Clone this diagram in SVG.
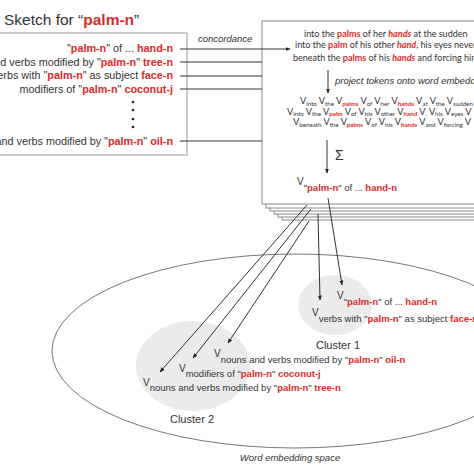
<svg xmlns="http://www.w3.org/2000/svg" width="474" height="474" viewBox="0 0 474 474">
<defs>
<marker id="ah" viewBox="0 0 10 10" refX="9" refY="5" markerWidth="5" markerHeight="5" orient="auto" markerUnits="userSpaceOnUse">
<path d="M0,1 L10,5 L0,9 z" fill="#222"/>
</marker>
<style>
text{font-family:"Liberation Sans",Arial,sans-serif;fill:#333}
.r{fill:#dd2a2a;font-weight:bold}
.row{font-size:10.8px}
.it{font-style:italic;font-size:9.5px}
.conc{font-family:Lato,"Open Sans",sans-serif;font-size:9px;fill:#333}
.cr{fill:#dd2a2a;font-weight:bold}
.ci{fill:#dd2a2a;font-weight:bold;font-style:italic}
.vr{font-family:Lato,"Open Sans",sans-serif;font-size:9.2px}
.sb{font-size:6.2px}
.vl{font-size:10px}
.sl{font-size:9.5px}
.box{fill:#fff;stroke:#999;stroke-width:1}
.page{fill:#fff;stroke:#888;stroke-width:1}
.ln{stroke:#333;stroke-width:1;fill:none}
</style>
</defs>
<rect width="474" height="474" fill="#fff"/>

<g id="title">
<text x="4" y="25" style="font-size:15.5px">Sketch for “<tspan class="r">palm-n</tspan>”</text>
</g>

<g id="space">
<ellipse cx="295" cy="351" rx="243" ry="97" fill="none" stroke="#777" stroke-width="1"/>
<text x="290" y="461" text-anchor="middle" class="it">Word embedding space</text>
</g>

<g id="cluster1">
<ellipse cx="335" cy="305" rx="37" ry="30" fill="#ebebeb"/>
<text x="338" y="349" text-anchor="middle" style="font-size:11px">Cluster 1</text>
</g>
<g id="cluster2">
<ellipse cx="193" cy="366" rx="57" ry="45" fill="#ebebeb"/>
<text x="192" y="423" text-anchor="middle" style="font-size:11px">Cluster 2</text>
</g>

<g id="sketch">
<rect class="box" x="-10" y="33" width="197" height="122"/>
<g class="row" text-anchor="end">
<text x="173" y="52">"<tspan class="r">palm-n</tspan>" of ... <tspan class="r">hand-n</tspan></text>
<text x="173" y="66">nouns and verbs modified by "<tspan class="r">palm-n</tspan>" <tspan class="r">tree-n</tspan></text>
<text x="173" y="79">verbs with "<tspan class="r">palm-n</tspan>" as subject <tspan class="r">face-n</tspan></text>
<text x="173" y="93">modifiers of "<tspan class="r">palm-n</tspan>" <tspan class="r">coconut-j</tspan></text>
<text x="173" y="145">nouns and verbs modified by "<tspan class="r">palm-n</tspan>" <tspan class="r">oil-n</tspan></text>
</g>
<g fill="#222">
<circle cx="133" cy="102" r="1.3"/>
<circle cx="133" cy="110" r="1.3"/>
<circle cx="133" cy="119" r="1.3"/>
<circle cx="133" cy="127" r="1.3"/>
</g>
</g>

<g id="concordance">
<rect class="page" x="282" y="36" width="220" height="184"/>
<rect class="page" x="278" y="33" width="220" height="184"/>
<rect class="page" x="274" y="30" width="220" height="184"/>
<rect class="page" x="270" y="27" width="220" height="184"/>
<rect class="page" x="266" y="24" width="220" height="184"/>
<rect class="page" x="262" y="21" width="220" height="183"/>
<text class="conc" x="304" y="37">into the <tspan class="cr">palms</tspan> of her <tspan class="ci">hands</tspan> at the sudden</text>
<text class="conc" x="295" y="48">into the <tspan class="cr">palm</tspan> of his other <tspan class="ci">hand</tspan>, his eyes never</text>
<text class="conc" x="293" y="61">beneath the <tspan class="cr">palms</tspan> of his <tspan class="ci">hands</tspan> and forcing him</text>
<text x="335" y="84" class="it">project tokens onto word embeddings</text>
<text class="vr" x="300" y="104">V<tspan class="sb" dy="1.5">into</tspan><tspan dy="-1.5"> V</tspan><tspan class="sb" dy="1.5">the</tspan><tspan dy="-1.5"> V</tspan><tspan class="sb cr" dy="1.5">palms</tspan><tspan dy="-1.5"> V</tspan><tspan class="sb" dy="1.5">of</tspan><tspan dy="-1.5"> V</tspan><tspan class="sb" dy="1.5">her</tspan><tspan dy="-1.5"> V</tspan><tspan class="sb cr" dy="1.5">hands</tspan><tspan dy="-1.5"> V</tspan><tspan class="sb" dy="1.5">at</tspan><tspan dy="-1.5"> V</tspan><tspan class="sb" dy="1.5">the</tspan><tspan dy="-1.5"> V</tspan><tspan class="sb" dy="1.5">sudden</tspan></text>
<text class="vr" x="287" y="114.5">V<tspan class="sb" dy="1.5">into</tspan><tspan dy="-1.5"> V</tspan><tspan class="sb" dy="1.5">the</tspan><tspan dy="-1.5"> V</tspan><tspan class="sb cr" dy="1.5">palm</tspan><tspan dy="-1.5"> V</tspan><tspan class="sb" dy="1.5">of</tspan><tspan dy="-1.5"> V</tspan><tspan class="sb" dy="1.5">his</tspan><tspan dy="-1.5"> V</tspan><tspan class="sb" dy="1.5">other</tspan><tspan dy="-1.5"> V</tspan><tspan class="sb cr" dy="1.5">hand</tspan><tspan dy="-1.5"> V</tspan><tspan class="sb" dy="1.5">,</tspan><tspan dy="-1.5"> V</tspan><tspan class="sb" dy="1.5">his</tspan><tspan dy="-1.5"> V</tspan><tspan class="sb" dy="1.5">eyes</tspan><tspan dy="-1.5"> V</tspan></text>
<text class="vr" x="293" y="125">V<tspan class="sb" dy="1.5">beneath</tspan><tspan dy="-1.5"> V</tspan><tspan class="sb" dy="1.5">the</tspan><tspan dy="-1.5"> V</tspan><tspan class="sb cr" dy="1.5">palms</tspan><tspan dy="-1.5"> V</tspan><tspan class="sb" dy="1.5">of</tspan><tspan dy="-1.5"> V</tspan><tspan class="sb" dy="1.5">his</tspan><tspan dy="-1.5"> V</tspan><tspan class="sb cr" dy="1.5">hands</tspan><tspan dy="-1.5"> V</tspan><tspan class="sb" dy="1.5">and</tspan><tspan dy="-1.5"> V</tspan><tspan class="sb" dy="1.5">forcing</tspan><tspan dy="-1.5"> V</tspan></text>
<text x="335" y="160" style="font-size:14px">Σ</text>
<text x="297" y="185" class="vl">V<tspan class="sl" dy="6">"<tspan class="r">palm-n</tspan>" of ... <tspan class="r">hand-n</tspan></tspan></text>
</g>

<g id="labels1">
<text x="337" y="299" class="vl">V<tspan class="sl" dy="6">"<tspan class="r">palm-n</tspan>" of ... <tspan class="r">hand-n</tspan></tspan></text>
<text x="312" y="316" class="vl">V<tspan class="sl" dy="6">verbs with "<tspan class="r">palm-n</tspan>" as subject <tspan class="r">face-n</tspan></tspan></text>
</g>
<g id="labels2">
<text x="214" y="357" class="vl">V<tspan class="sl" dy="6">nouns and verbs modified by "<tspan class="r">palm-n</tspan>" <tspan class="r">oil-n</tspan></tspan></text>
<text x="179" y="372" class="vl">V<tspan class="sl" dy="5">modifiers of "<tspan class="r">palm-n</tspan>" <tspan class="r">coconut-j</tspan></tspan></text>
<text x="143" y="386" class="vl">V<tspan class="sl" dy="5">nouns and verbs modified by "<tspan class="r">palm-n</tspan>" <tspan class="r">tree-n</tspan></tspan></text>
</g>

<g id="connectors">
<text x="198" y="42" class="it">concordance</text>
<line class="ln" x1="180" y1="49" x2="290" y2="49" marker-end="url(#ah)"/>
<line class="ln" x1="180" y1="62" x2="262" y2="62"/>
<line class="ln" x1="180" y1="76" x2="262" y2="76"/>
<line class="ln" x1="180" y1="89" x2="262" y2="89"/>
<line class="ln" x1="180" y1="141" x2="262" y2="141"/>
<line class="ln" x1="328" y1="70" x2="328" y2="93" marker-end="url(#ah)"/>
<line class="ln" x1="327" y1="140" x2="327" y2="173" marker-end="url(#ah)"/>
<line class="ln" x1="328" y1="198" x2="342" y2="285" marker-end="url(#ah)"/>
<line class="ln" x1="318" y1="214" x2="320" y2="300" marker-end="url(#ah)"/>
<line class="ln" x1="309" y1="221" x2="228" y2="343" marker-end="url(#ah)"/>
<line class="ln" x1="311" y1="209" x2="193" y2="358" marker-end="url(#ah)"/>
<line class="ln" x1="307" y1="205" x2="160" y2="372" marker-end="url(#ah)"/>
</g>
</svg>
